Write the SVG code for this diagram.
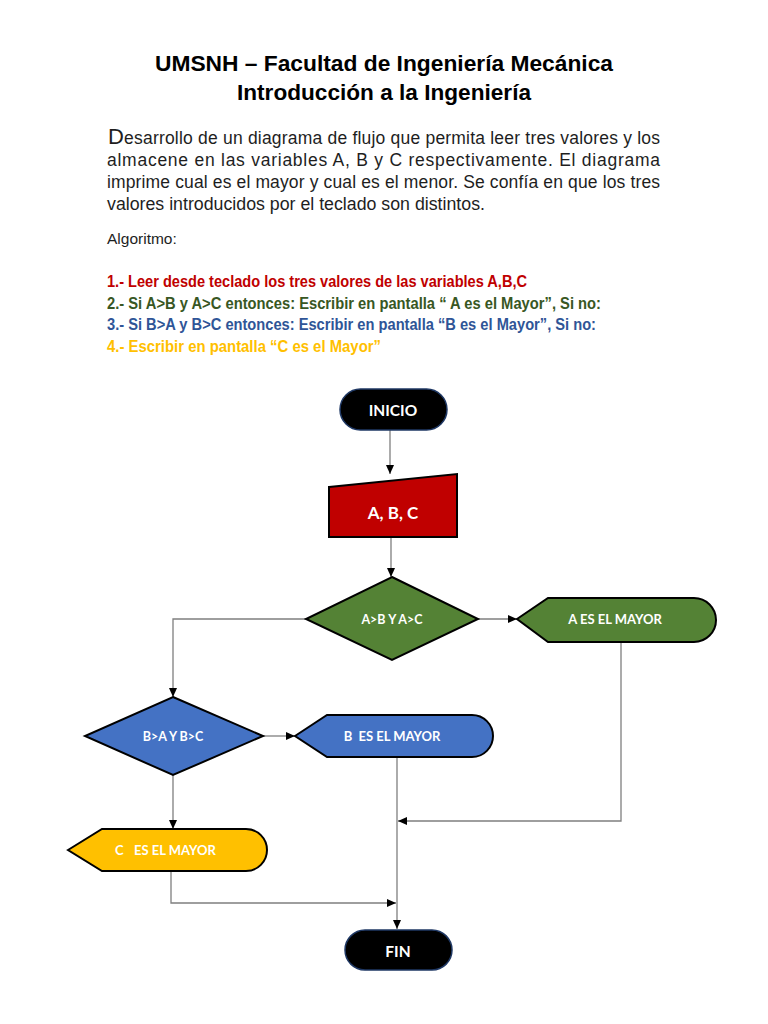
<svg xmlns="http://www.w3.org/2000/svg" width="768" height="1024" viewBox="0 0 768 1024">
<defs>
<style>
.title{font-family:"Liberation Sans",Arial,sans-serif;font-weight:bold;font-size:22px;fill:#000;text-anchor:middle}
.para{font-family:"Liberation Sans",Arial,sans-serif;font-size:17.5px;fill:#1e1e1e}
.alg{font-family:"Liberation Sans Narrow","Liberation Sans",Arial,sans-serif;font-weight:bold;font-size:16.5px}
.lbl{font-family:Lato,"Open Sans",sans-serif;font-weight:bold;fill:#fff;text-anchor:middle;dominant-baseline:central}
.pill{fill:#000;stroke:#1f3864;stroke-width:1.5}
.shape{stroke:#000;stroke-width:2}
.conn{fill:none;stroke:#7f7f7f;stroke-width:1.3}
</style>
<marker id="ah" markerWidth="9" markerHeight="8" refX="9" refY="4" orient="auto" markerUnits="userSpaceOnUse">
<path d="M0,0 L9,4 L0,8 Z" fill="#000"/>
</marker>
</defs>
<rect width="768" height="1024" fill="#fff"/>

<g id="header">
<text class="title" x="384" y="71" textLength="458" lengthAdjust="spacingAndGlyphs">UMSNH – Facultad de Ingeniería Mecánica</text>
<text class="title" x="384" y="100" textLength="294" lengthAdjust="spacingAndGlyphs">Introducción a la Ingeniería</text>
<text class="para" x="108" y="144" textLength="552" lengthAdjust="spacing"><tspan font-size="22">D</tspan>esarrollo de un diagrama de flujo que permita leer tres valores y los</text>
<text class="para" x="107" y="166" textLength="553" lengthAdjust="spacing">almacene en las variables A, B y C respectivamente. El diagrama</text>
<text class="para" x="107" y="188" textLength="553" lengthAdjust="spacing">imprime cual es el mayor y cual es el menor. Se confía en que los tres</text>
<text class="para" x="107" y="210" textLength="378" lengthAdjust="spacingAndGlyphs">valores introducidos por el teclado son distintos.</text>
<text class="para" x="107" y="244" style="font-size:15.5px">Algoritmo:</text>
<text class="alg" x="107" y="287" fill="#c00000" textLength="420" lengthAdjust="spacingAndGlyphs">1.- Leer desde teclado los tres valores de las variables A,B,C</text>
<text class="alg" x="107" y="308.5" fill="#385723" textLength="494" lengthAdjust="spacingAndGlyphs">2.- Si A&gt;B y A&gt;C entonces: Escribir en pantalla “ A es el Mayor”, Si no:</text>
<text class="alg" x="107" y="330" fill="#2f5597" textLength="489" lengthAdjust="spacingAndGlyphs">3.- Si B&gt;A y B&gt;C entonces: Escribir en pantalla “B es el Mayor”, Si no:</text>
<text class="alg" x="107" y="351.5" fill="#ffc000" textLength="274" lengthAdjust="spacingAndGlyphs">4.- Escribir en pantalla “C es el Mayor”</text>
</g>

<g id="connectors">
<path class="conn" d="M390,430 V474" marker-end="url(#ah)"/>
<path class="conn" d="M391,537 V577" marker-end="url(#ah)"/>
<path class="conn" d="M478,619 H517" marker-end="url(#ah)"/>
<path class="conn" d="M306,619 H173 V697" marker-end="url(#ah)"/>
<path class="conn" d="M263,736 H295" marker-end="url(#ah)"/>
<path class="conn" d="M621,642 V821 H398" marker-end="url(#ah)"/>
<path class="conn" d="M397,757 V929" marker-end="url(#ah)"/>
<path class="conn" d="M173,775 V829" marker-end="url(#ah)"/>
<path class="conn" d="M171,871 V903 H396" marker-end="url(#ah)"/>
</g>

<g id="inicio">
<rect class="pill" x="340" y="389" width="107" height="41" rx="20.5"/>
<text class="lbl" x="393" y="410" font-size="15.5">INICIO</text>
</g>

<g id="entrada">
<path class="shape" d="M329,487 L457,474 L457,537 L329,537 Z" fill="#c00000"/>
<text class="lbl" x="393" y="512" font-size="17">A, B, C</text>
</g>

<g id="decision1">
<path class="shape" d="M392,577 L478,619 L392,660 L306,619 Z" fill="#548235"/>
<text class="lbl" x="392" y="619" font-size="12.5">A&gt;B Y A&gt;C</text>
</g>

<g id="mayorA">
<path class="shape" d="M517,619 L548,598 L694,598 A22,22 0 0 1 694,642 L548,642 Z" fill="#548235"/>
<text class="lbl" x="615" y="619" font-size="13">A ES EL MAYOR</text>
</g>

<g id="decision2">
<path class="shape" d="M173,697 L263,736 L173,775 L85,736 Z" fill="#4472c4"/>
<text class="lbl" x="173" y="736" font-size="12.5">B&gt;A Y B&gt;C</text>
</g>

<g id="mayorB">
<path class="shape" d="M295,736 L327,715 L472,715 A21,21 0 0 1 472,757 L327,757 Z" fill="#4472c4"/>
<text class="lbl" x="392" y="736" font-size="13" xml:space="preserve">B  ES EL MAYOR</text>
</g>

<g id="mayorC">
<path class="shape" d="M68,850 L102,829 L246,829 A21,21 0 0 1 246,871 L102,871 Z" fill="#ffc000"/>
<text class="lbl" y="850" font-size="13" style="text-anchor:start"><tspan x="115">C</tspan><tspan x="134">ES EL MAYOR</tspan></text>
</g>

<g id="fin">
<rect class="pill" x="345" y="930" width="107" height="40" rx="20"/>
<text class="lbl" x="398" y="951" font-size="15.5">FIN</text>
</g>
</svg>
